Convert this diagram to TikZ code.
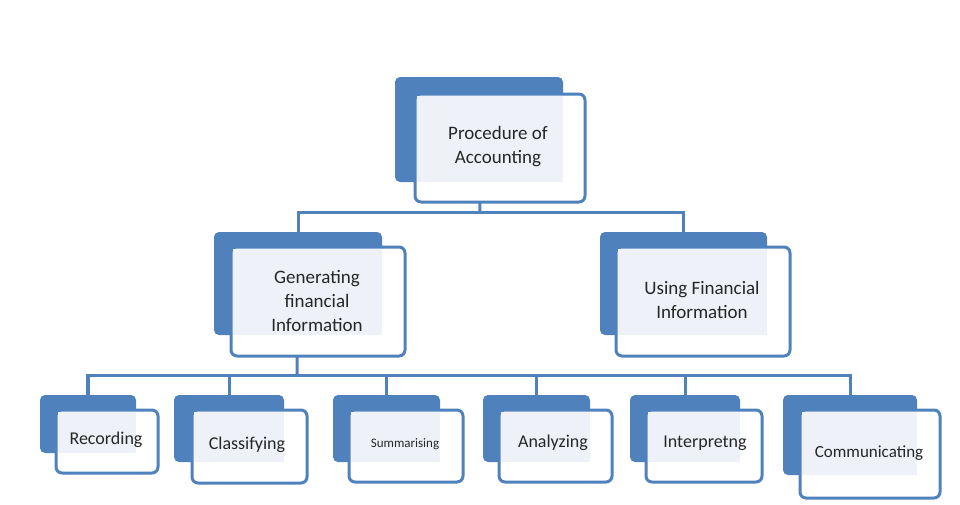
\documentclass[tikz,border=0pt]{standalone}
\usepackage{fontspec}
\setmainfont{Carlito}
\usetikzlibrary{backgrounds}
\definecolor{bl}{HTML}{4F81BD}
\definecolor{lt}{HTML}{EEF2F8}
\tikzset{conn/.style={draw=bl,line width=3pt},
 backbox/.style={fill=bl,rounded corners=5pt,inner sep=0pt},
 frontbox/.style={draw=bl,fill=white,line width=3pt,rounded corners=6pt},
 label/.style={inner sep=0pt,align=center,text=black!85}}
% name, back x1 y1 x2 y2, front x1 y1 x2 y2, text, font
\newcommand\bx[9]{%
 \fill[backbox] (#2,#3) rectangle (#4,#5);
 \node[inner sep=0pt,minimum width={#4-#2},minimum height={#5-#3}] (#1B) at ({(#2+#4)/2},{(#3+#5)/2}) {};
 \draw[frontbox] (#6,#7) rectangle (#8,#9);
 \fill[lt] ({#6+2},{#7+2}) rectangle (#4,#5);
 \node[inner sep=0pt,minimum width={#8-#6},minimum height={#9-#7}] (#1F) at ({(#6+#8)/2},{(#7+#9)/2}) {};
}
\begin{document}
\begin{tikzpicture}[x=1pt,y=-1pt]
\useasboundingbox (0,0) rectangle (960,504);
\bx{top}{395}{77}{563}{182}{415}{94}{585}{202}
\node[label,font=\fontsize{19}{24}\selectfont] at (498,147) {Procedure of\\Accounting};
\bx{gen}{214}{232}{382}{335}{231}{247}{405}{356}
\node[label,font=\fontsize{19}{24}\selectfont] at (317,301) {Generating\\financial\\Information};
\bx{use}{600}{232}{767}{335}{616}{247}{790}{356}
\node[label,font=\fontsize{19}{24}\selectfont] at (702,300) {Using Financial\\Information};
\bx{rec}{40}{395}{136}{453}{56}{410}{158}{473}
\node[label,font=\fontsize{18}{22}\selectfont] at (106,440) {Recording};
\bx{cla}{174}{395}{284}{462}{192}{410}{307}{483}
\node[label,font=\fontsize{18}{22}\selectfont] at (247,445) {Classifying};
\bx{sum}{333}{395}{440}{462}{349}{410}{463}{482}
\node[label,font=\fontsize{13}{16}\selectfont] at (405,444) {Summarising};
\bx{ana}{483}{395}{590}{462}{499}{410}{612}{482}
\node[label,font=\fontsize{18}{22}\selectfont] at (553,443) {Analyzing};
\bx{int}{630}{395}{740}{462}{646}{410}{762}{482}
\node[label,font=\fontsize{18}{22}\selectfont] at (705,443) {Interpretng};
\bx{com}{783}{395}{917}{475}{800}{410}{940}{498}
\node[label,font=\fontsize{17}{22}\selectfont] at (869,453) {Communicating};
\begin{scope}[on background layer]
\coordinate (j1) at (480,212);
\coordinate (j2) at (297,375);
\draw[conn] (topB.center) -- (j1);
\draw[conn] (genB.north) |- (j1) -| (useB.north);
\draw[conn] (genB.center) -- (j2);
\draw[conn] (recB.north) ++(-1,0) |- (j2);
\draw[conn] (recB.north) |- (j2) -| (comB.north);
\foreach \n in {cla,sum,ana,int} \draw[conn] (\n B.north) -- (\n B.north |- j2);
\end{scope}
\end{tikzpicture}
\end{document}
